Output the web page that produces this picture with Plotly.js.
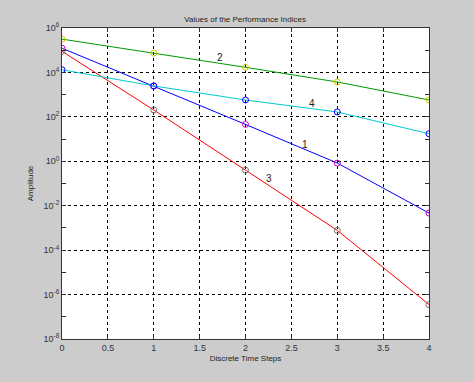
<!DOCTYPE html>
<html><head><meta charset="utf-8">
<script src="https://cdn.plot.ly/plotly-3.0.1.min.js"></script>
<style>html,body{margin:0;padding:0;background:#cccccc;}#chart{width:474px;height:382px;}</style>
</head><body><div id="chart"></div>
<script>
// Data (log10 amplitude, converted to values below)
const steps = [0, 1, 2, 3, 4];
const index1Log = [5.09, 3.39, 1.66, -0.08, -2.33];
const index2Log = [5.50, 4.87, 4.23, 3.57, 2.76];
const index3Log = [4.95, 2.31, -0.40, -3.11, -6.45];
const index4Log = [4.12, 3.39, 2.76, 2.22, 1.24];
const labelNames = ["1", "2", "3", "4"];
const labelX = [2.65, 1.72, 2.26, 2.73];
const labelYLog = [0.77, 4.65, -0.76, 2.62];
const majorDecades = [-8, -6, -4, -2, 0, 2, 4, 6];
const minorDecades = [-7, -5, -3, -1, 1, 3, 5];

const toVal = a => a.map(v => Math.pow(10, v));
const font = {family: "Liberation Sans, Arial, sans-serif", size: 8, color: "#222"};
const tickFont = {family: "Liberation Sans, Arial, sans-serif", size: 9, color: "#333"};

function series(ylog, lineColor, markerColor) {
  return {x: steps, y: toVal(ylog), type: "scatter", mode: "lines+markers",
    line: {color: lineColor, width: 1},
    marker: {symbol: "circle-open", size: 6, color: markerColor, line: {width: 1, color: markerColor}},
    showlegend: false, hoverinfo: "skip"};
}
const traces = [
  series(index1Log, "#0000ff", "#cc00cc"),
  series(index2Log, "#009900", "#cccc00"),
  series(index3Log, "#ff0000", "#777777"),
  series(index4Log, "#00cccc", "#0000ff"),
  {x: [0], y: [1], yaxis: "y2", type: "scatter", mode: "markers", marker: {opacity: 0}, showlegend: false, hoverinfo: "skip"}
];
const annotations = labelNames.map((t, i) => ({
  x: labelX[i], y: labelYLog[i], xref: "x", yref: "y", text: t, showarrow: false,
  font: {family: font.family, size: 10, color: "#222"}
}));
const layout = {
  width: 474, height: 382,
  paper_bgcolor: "#cccccc", plot_bgcolor: "#ffffff",
  margin: {l: 62, r: 45, t: 28, b: 43},
  font: font,
  title: {text: "Values of the Performance Indices", x: 0.517, xanchor: "center", y: 0.95, yanchor: "middle", font: font},
  xaxis: {range: [0, 4], tickvals: [0, 0.5, 1, 1.5, 2, 2.5, 3, 3.5, 4], ticktext: ["0","0.5","1","1.5","2","2.5","3","3.5","4"],
    ticks: "inside", ticklen: 4, tickcolor: "#333", showline: true, linecolor: "#333", linewidth: 1, mirror: "ticks",
    showgrid: true, gridcolor: "#000", gridwidth: 1, griddash: "3px,3px", zeroline: false,
    title: {text: "Discrete Time Steps", font: font, standoff: 3}, tickfont: tickFont},
  yaxis: {type: "log", range: [-8, 6], tickvals: toVal(majorDecades),
    ticktext: majorDecades.map(d => "10<sup>" + d + "</sup>"),
    ticks: "inside", ticklen: 4, tickcolor: "#333", showline: true, linecolor: "#333", linewidth: 1, mirror: "ticks",
    showgrid: true, gridcolor: "#000", gridwidth: 1, griddash: "3px,3px", zeroline: false,
    title: {text: "Amplitude", font: font, standoff: 8}, tickfont: tickFont},
  yaxis2: {type: "log", range: [-8, 6], overlaying: "y", side: "left", tickvals: toVal(minorDecades),
    showticklabels: false, ticks: "inside", ticklen: 4, tickcolor: "#333", mirror: "ticks", showline: true, linecolor: "#333",
    showgrid: false, zeroline: false},
  annotations: annotations
};
Plotly.newPlot("chart", traces, layout, {displayModeBar: false, staticPlot: true});
</script></body></html>
